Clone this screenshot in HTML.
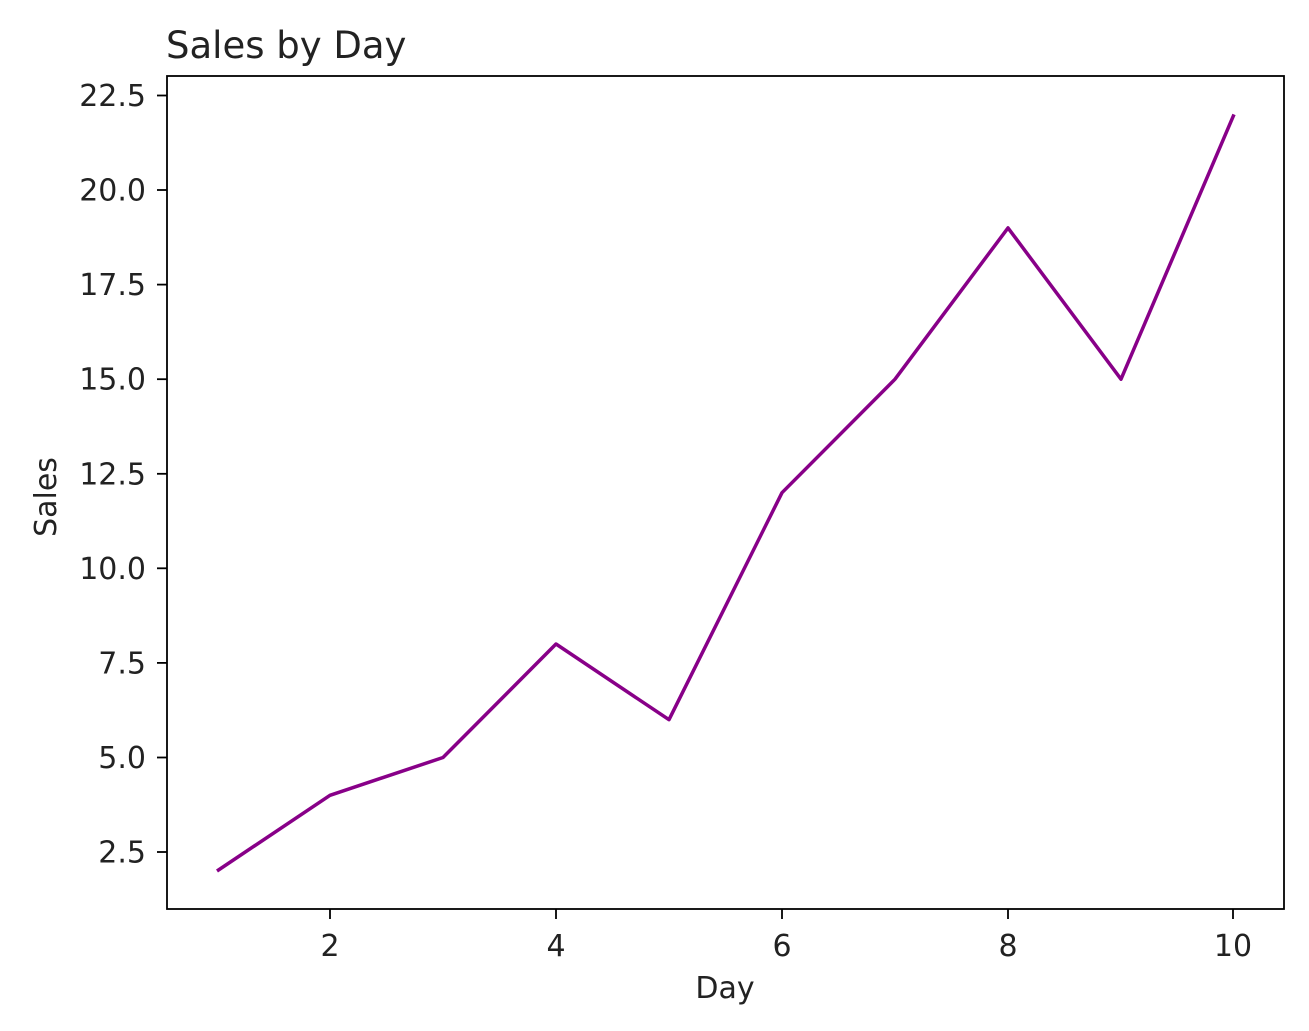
<!DOCTYPE html>
<html><head><meta charset="utf-8"><style>
html,body{margin:0;padding:0;background:#fff;}
svg{display:block;font-family:"DejaVu Sans","Liberation Sans",sans-serif;}
</style></head><body>
<svg width="1309" height="1031" viewBox="0 0 1309 1031" xmlns="http://www.w3.org/2000/svg">
<rect width="1309" height="1031" fill="#fff"/>
<text x="166" y="58" font-size="37" fill="#222">Sales by Day</text>
<polyline fill="none" stroke="#880088" stroke-width="3.5" stroke-linejoin="round"
 points="217,871 330,795.3 443,757.5 556,644 669,719.7 782,492.7 895,379.2 1008,227.9 1121,379.2 1234,114.4"/>
<rect x="167" y="76" width="1117" height="833" fill="none" stroke="#000" stroke-width="1.8"/>
<g stroke="#000" stroke-width="1.8">
<line x1="330" y1="909" x2="330" y2="919"/>
<line x1="556" y1="909" x2="556" y2="919"/>
<line x1="782" y1="909" x2="782" y2="919"/>
<line x1="1008" y1="909" x2="1008" y2="919"/>
<line x1="1233" y1="909" x2="1233" y2="919"/>
<line x1="157" y1="852" x2="167" y2="852"/>
<line x1="157" y1="757.5" x2="167" y2="757.5"/>
<line x1="157" y1="662.9" x2="167" y2="662.9"/>
<line x1="157" y1="568.3" x2="167" y2="568.3"/>
<line x1="157" y1="473.8" x2="167" y2="473.8"/>
<line x1="157" y1="379.2" x2="167" y2="379.2"/>
<line x1="157" y1="284.6" x2="167" y2="284.6"/>
<line x1="157" y1="190" x2="167" y2="190"/>
<line x1="157" y1="95.5" x2="167" y2="95.5"/>
</g>
<g font-size="30" fill="#222" text-anchor="middle">
<text x="330" y="956">2</text>
<text x="556" y="956">4</text>
<text x="782" y="956">6</text>
<text x="1008" y="956">8</text>
<text x="1233" y="956">10</text>
<text x="725" y="998">Day</text>
</g>
<g font-size="30" fill="#222" text-anchor="end">
<text x="146" y="862.5">2.5</text>
<text x="146" y="768">5.0</text>
<text x="146" y="673.4">7.5</text>
<text x="146" y="578.8">10.0</text>
<text x="146" y="484.3">12.5</text>
<text x="146" y="389.7">15.0</text>
<text x="146" y="295.1">17.5</text>
<text x="146" y="200.5">20.0</text>
<text x="146" y="106">22.5</text>
</g>
<text x="0" y="0" font-size="30" fill="#222" text-anchor="middle" transform="translate(56,497) rotate(-90)">Sales</text>
</svg>
</body></html>
